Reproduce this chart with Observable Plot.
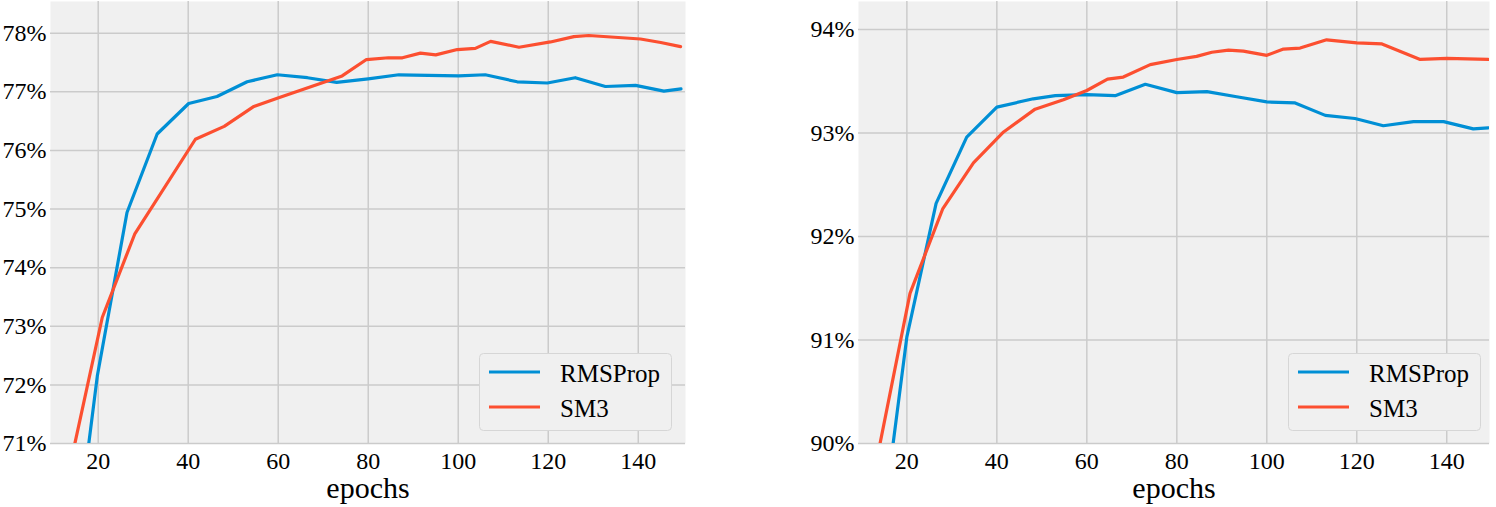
<!DOCTYPE html>
<html><head><meta charset="utf-8">
<script src="https://cdn.jsdelivr.net/npm/d3@7"></script>
<script src="https://cdn.jsdelivr.net/npm/@observablehq/plot@0.6"></script>
<style>
html,body{margin:0;padding:0;background:#fff;}
#wrap{position:relative;width:1496px;height:507px;font-family:"Liberation Serif",serif;}
.panel{position:absolute;top:0;}
#wrap .panel svg text{font-family:"Liberation Serif","Times New Roman",serif !important;font-size:24px !important;font-variant:normal !important;fill:#000 !important;}
#wrap .panel svg g[aria-label="text"] text{font-size:30px !important;}
</style></head><body><div id="wrap"></div>
<script>
const seriesNames = ["RMSProp", "SM3"];
const seriesColors = ["#008fd5", "#fc4f30"];
const xTicks = [20, 40, 60, 80, 100, 120, 140];
const xLabel = "epochs";

// Left panel
const yTicksLeft = [71, 72, 73, 74, 75, 76, 77, 78];
const leftRmsEpochs = [13.3, 19.8, 26.4, 33.1, 40.1, 46.4, 53.1, 59.8, 66.5, 73, 80, 86.8, 93.3, 100.1, 106, 113.1, 119.8, 126, 132.7, 139.4, 145.7, 149.5];
const leftRmsAcc    = [68.2, 72.15, 74.94, 76.28, 76.80, 76.92, 77.17, 77.29, 77.24, 77.16, 77.22, 77.29, 77.28, 77.27, 77.29, 77.17, 77.15, 77.24, 77.09, 77.11, 77.01, 77.05];
const leftSm3Epochs = [14.67, 20.9, 28.1, 41.6, 48, 54.6, 60.1, 74.2, 79.6, 84.5, 87.6, 91.6, 95, 99.8, 103.8, 107.2, 113.5, 120.5, 125.7, 129, 140.5, 145, 149.4];
const leftSm3Acc    = [70.95, 73.15, 74.57, 76.19, 76.41, 76.75, 76.90, 77.27, 77.55, 77.58, 77.58, 77.66, 77.63, 77.72, 77.74, 77.86, 77.76, 77.85, 77.94, 77.96, 77.90, 77.84, 77.77];

// Right panel
const yTicksRight = [90, 91, 92, 93, 94];
const rightRmsEpochs = [13.33, 20, 26.5, 33.3, 40, 48.1, 53, 60, 66.3, 73, 80, 86.7, 93.3, 100, 106.3, 113, 119.6, 125.9, 132.6, 139.3, 145.9, 149.2];
const rightRmsAcc    = [88.78, 91.03, 92.32, 92.96, 93.25, 93.33, 93.36, 93.37, 93.36, 93.47, 93.39, 93.40, 93.35, 93.30, 93.29, 93.17, 93.14, 93.07, 93.11, 93.11, 93.04, 93.05];
const rightSm3Epochs = [13.9, 20.7, 28, 34.8, 41.5, 48.5, 54.8, 60, 64.6, 68.1, 74.1, 80, 84.4, 87.8, 91.5, 94.8, 100, 103.7, 107.4, 113.3, 120, 125.6, 134.1, 140, 149.2];
const rightSm3Acc    = [89.97, 91.45, 92.27, 92.71, 93.01, 93.23, 93.32, 93.41, 93.52, 93.54, 93.66, 93.71, 93.74, 93.78, 93.80, 93.79, 93.75, 93.81, 93.82, 93.90, 93.87, 93.86, 93.71, 93.72, 93.71];

function rows(epochs, acc, name) {
  return epochs.map((e, i) => ({epoch: e, acc: acc[i], series: name}));
}

const FONT = '"Liberation Serif", "Times New Roman", serif';

function panel({data, xDomain, yDomain, yTicks, marginLeft, marginRight}) {
  return Plot.plot({
    width: 748, height: 507,
    marginLeft, marginRight, marginTop: 1, marginBottom: 64,
    style: {fontFamily: FONT, background: "transparent", color: "#000", overflow: "visible"},
    x: {domain: xDomain, ticks: xTicks},
    y: {domain: yDomain, ticks: yTicks},
    color: {domain: seriesNames, range: seriesColors},
    marks: [
      Plot.frame({fill: "#f0f0f0", stroke: "none"}),
      Plot.gridX(xTicks, {stroke: "#cbcbcb", strokeOpacity: 1, strokeWidth: 1.5}),
      Plot.gridY(yTicks, {stroke: "#cbcbcb", strokeOpacity: 1, strokeWidth: 1.5}),
      Plot.axisX(xTicks, {tickSize: 0, tickPadding: 8, fontSize: 24, fontFamily: FONT, label: null, fill: "#000"}),
      Plot.axisY(yTicks, {tickSize: 0, tickPadding: 4, fontSize: 24, fontFamily: FONT, label: null, fill: "#000", tickFormat: d => d + "%"}),
      Plot.line(data, {x: "epoch", y: "acc", z: "series", stroke: "series", strokeWidth: 3.2, clip: true, strokeLinejoin: "round"}),
      Plot.text([xLabel], {text: d => d, frameAnchor: "bottom", lineAnchor: "middle", dy: 45, fontSize: 30, fontFamily: FONT, fill: "#000"})
    ]
  });
}

const wrap = document.getElementById("wrap");

const leftData = [...rows(leftRmsEpochs, leftRmsAcc, "RMSProp"), ...rows(leftSm3Epochs, leftSm3Acc, "SM3")];
const rightData = [...rows(rightRmsEpochs, rightRmsAcc, "RMSProp"), ...rows(rightSm3Epochs, rightSm3Acc, "SM3")];

const p1 = panel({data: leftData, xDomain: [9.4, 150.5], yDomain: [71, 78.54], yTicks: yTicksLeft, marginLeft: 50, marginRight: 63});
const p2 = panel({data: rightData, xDomain: [9.25, 149.5], yDomain: [90, 94.27], yTicks: yTicksRight, marginLeft: 110, marginRight: 7});
const d1 = document.createElement("div"); d1.className = "panel"; d1.style.left = "0px"; d1.appendChild(p1);
const d2 = document.createElement("div"); d2.className = "panel"; d2.style.left = "748px"; d2.appendChild(p2);
wrap.appendChild(d1); wrap.appendChild(d2);

// Legends (overlay)
function legend(left, top) {
  const svg = d3.select(wrap).append("svg")
    .attr("width", 194).attr("height", 79)
    .style("position", "absolute").style("left", left + "px").style("top", top + "px");
  svg.append("rect").attr("x", 0.5).attr("y", 0.5).attr("width", 192).attr("height", 77)
    .attr("rx", 4).attr("fill", "#f0f0f0").attr("stroke", "#d6d6d6").attr("stroke-width", 1);
  const rowY = [19, 54];
  seriesNames.forEach((name, i) => {
    svg.append("line").attr("x1", 10).attr("x2", 61).attr("y1", rowY[i]).attr("y2", rowY[i])
      .attr("stroke", seriesColors[i]).attr("stroke-width", 3.2);
    svg.append("text").attr("x", 81).attr("y", rowY[i] + 10)
      .attr("font-family", FONT).attr("font-size", 25).attr("fill", "#000").text(name);
  });
}
legend(479, 352.5);
legend(1287.5, 352.5);
</script>
</body></html>
